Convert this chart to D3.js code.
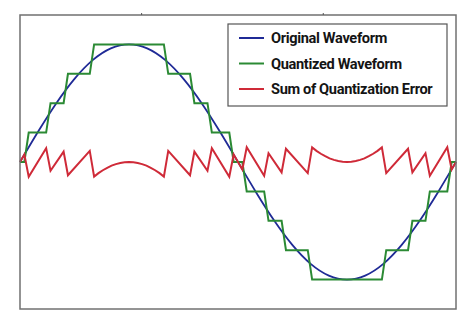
<!DOCTYPE html>
<html>
<head>
<meta charset="utf-8">
<script src="https://d3js.org/d3.v7.min.js"></script>
<style>
  body { margin: 0; background: #fff; }
</style>
</head>
<body>
<div id="chart-area"></div>
<script>
// Original waveform (phase in degrees, value)
var origDeg = [0, 15, 30, 45, 60, 75, 90, 105, 120, 135, 150, 165, 180,
               195, 210, 225, 240, 255, 270, 285, 300, 315, 330, 345, 360];
var origVal = [0, 0.259, 0.5, 0.707, 0.866, 0.966, 1, 0.966, 0.866, 0.707, 0.5, 0.259, 0,
               -0.259, -0.5, -0.707, -0.866, -0.966, -1, -0.966, -0.866, -0.707, -0.5, -0.259, 0];

// Quantized waveform corners
var quantDeg = [0, 3.6, 7.2, 21.6, 25.2, 36, 39.6, 57.6, 61.2, 118.8, 122.4, 140.4, 144,
                154.8, 158.4, 172.8, 176.4, 183.6, 187.2, 201.6, 205.2, 216, 219.6, 237.6,
                241.2, 298.8, 302.4, 320.4, 324, 334.8, 338.4, 352.8, 356.4, 360];
var quantVal = [0, 0, 0.25, 0.25, 0.5, 0.5, 0.75, 0.75, 1, 1, 0.75, 0.75, 0.5,
                0.5, 0.25, 0.25, 0, 0, -0.25, -0.25, -0.5, -0.5, -0.75, -0.75,
                -1, -1, -0.75, -0.75, -0.5, -0.5, -0.25, -0.25, 0, 0];

// Quantization error
var errDeg = [0, 3.6, 7.2, 21.6, 25.2, 36, 39.6, 57.6, 61.2,
              64.8, 68.4, 72, 75.6, 79.2, 82.8, 86.4, 90, 93.6, 97.2, 100.8, 104.4, 108, 111.6, 115.2,
              118.8, 122.4, 140.4, 144, 154.8, 158.4, 172.8, 176.4,
              180, 183.6, 187.2, 201.6, 205.2, 216, 219.6, 237.6, 241.2,
              244.8, 248.4, 252, 255.6, 259.2, 262.8, 266.4, 270, 273.6, 277.2, 280.8, 284.4, 288, 291.6, 295.2,
              298.8, 302.4, 320.4, 324, 334.8, 338.4, 352.8, 356.4, 360];
var errVal = [0, 0.063, -0.125, 0.118, -0.074, 0.088, -0.113, 0.094, -0.124,
              -0.095, -0.070, -0.049, -0.031, -0.018, -0.008, -0.002, 0, -0.002, -0.008, -0.018, -0.031, -0.049, -0.070, -0.095,
              -0.124, 0.094, -0.113, 0.088, -0.074, 0.118, -0.125, 0.063,
              0, -0.063, 0.125, -0.118, 0.074, -0.088, 0.113, -0.094, 0.124,
              0.095, 0.070, 0.049, 0.031, 0.018, 0.008, 0.002, 0, 0.002, 0.008, 0.018, 0.031, 0.049, 0.070, 0.095,
              0.124, -0.094, 0.113, -0.088, 0.074, -0.118, 0.125, -0.063, 0];

var topTicks = [100, 250];

var legendLabels = ["Original Waveform", "Quantized Waveform", "Sum of Quantization Error"];
var colors = ["#1f2a96", "#2b8a34", "#cf2a38"];

var margin = { left: 20, right: 18, top: 15, bottom: 18 };
var width = 474 - margin.left - margin.right,
    height = 327 - margin.top - margin.bottom;

var svg = d3.select("#chart-area")
    .append("svg")
        .attr("width", 474)
        .attr("height", 327);

var g = svg.append("g")
    .attr("transform", "translate(" + margin.left + ", " + margin.top + ")");

var x = d3.scaleLinear()
    .domain([0, 360])
    .range([0, width]);

var y = d3.scaleLinear()
    .domain([-1.25, 1.25])
    .range([height, 0]);

function zip(xs, ys) {
    return xs.map(function(d, i){ return [d, ys[i]]; });
}

var line = d3.line()
    .x(function(d){ return x(d[0]); })
    .y(function(d){ return y(d[1]); });

// Lines
g.append("path")
    .datum(zip(origDeg, origVal))
    .attr("fill", "none")
    .attr("stroke", colors[0])
    .attr("stroke-width", 1.8)
    .attr("d", line.curve(d3.curveNatural));

line.curve(d3.curveLinear);

g.append("path")
    .datum(zip(quantDeg, quantVal))
    .attr("fill", "none")
    .attr("stroke", colors[1])
    .attr("stroke-width", 2)
    .attr("stroke-linejoin", "miter")
    .attr("d", line);

g.append("path")
    .datum(zip(errDeg, errVal))
    .attr("fill", "none")
    .attr("stroke", colors[2])
    .attr("stroke-width", 2)
    .attr("d", line);

// Frame
g.append("rect")
    .attr("width", width)
    .attr("height", height)
    .attr("fill", "none")
    .attr("stroke", "#707070")
    .attr("stroke-width", 1.5);

// little top ticks left over from the axis
var topAxis = d3.axisTop(x)
    .tickValues(topTicks)
    .tickSize(2)
    .tickFormat("");
g.append("g")
    .call(topAxis)
    .call(function(a){ a.select(".domain").remove(); })
    .selectAll("line")
        .attr("stroke", "#555");

// Legend
var legend = svg.append("g")
    .attr("transform", "translate(228, 24)");

legend.append("rect")
    .attr("width", 219)
    .attr("height", 82)
    .attr("fill", "#fff")
    .attr("stroke", "#555")
    .attr("stroke-width", 1.2);

var rows = legend.selectAll("g.row")
    .data(legendLabels)
    .enter()
    .append("g")
        .attr("class", "row")
        .attr("transform", function(d, i){ return "translate(0, " + (14 + i * 25.5) + ")"; });

rows.append("line")
    .attr("x1", 11)
    .attr("x2", 36)
    .attr("stroke", function(d, i){ return colors[i]; })
    .attr("stroke-width", 2);

var texts = rows.append("text")
    .attr("x", 43)
    .attr("dy", "0.36em")
    .attr("font-family", "Roboto, 'Open Sans', sans-serif")
    .attr("font-weight", 700)
    .attr("font-size", "14px")
    .attr("letter-spacing", "-0.35px")
    .attr("fill", "#141414")
    .text(function(d){ return d; });

// fit the longest label to the box like the original
var longest = texts.filter(function(d, i){ return i === 2; }).node().getComputedTextLength();
var fs = 14 * 161 / longest;
texts.attr("font-size", fs + "px");
</script>
</body>
</html>
